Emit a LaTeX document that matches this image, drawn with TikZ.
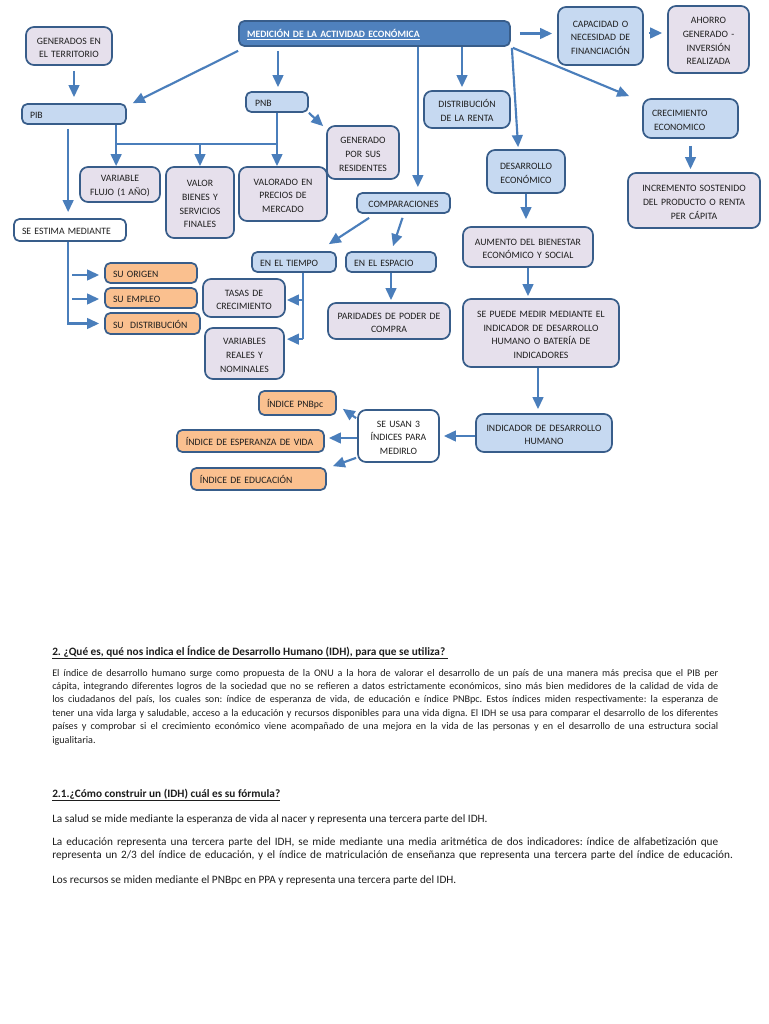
\documentclass[tikz,border=0pt]{standalone}
\usepackage{fontspec}
\setmainfont{Carlito}
\usetikzlibrary{arrows.meta,calc}
\frenchspacing
\definecolor{lb}{HTML}{C6D9F1}
\definecolor{lv}{HTML}{E6E0EC}
\definecolor{og}{HTML}{FAC08F}
\definecolor{mb}{HTML}{4F81BD}
\definecolor{bd}{HTML}{385D8A}
\definecolor{ac}{HTML}{4A7EBB}
\definecolor{tx}{HTML}{1E1E1E}
% style, name, x1, y1, x2, y2, pad, text
\newcommand\bx[8]{%
  \pgfmathsetmacro\bxw{(#5-#3-2*#7)*0.75}%
  \pgfmathsetmacro\bxh{(#6-#4)*0.75}%
  \pgfmathsetmacro\bxp{#7*0.75}%
  \node[#1, text width=\bxw pt, minimum height=\bxh pt, inner xsep=\bxp pt] (#2) at ({(#3+#5)/2},{(#4+#6)/2}) {#8};}
\newcommand\jline[1]{\noindent{\spaceskip=.226em plus .5em minus .1em\xspaceskip=\spaceskip\hbox to \hsize{#1}}\par}
\begin{document}
\begin{tikzpicture}[x=0.75pt,y=-0.75pt,
  boxbase/.style={draw=bd, line width=1.3pt, rounded corners=4pt, inner ysep=0pt,
    font=\fontsize{7.3}{10.25}\selectfont, text=tx, execute at begin node={\rule{0pt}{7.4pt}}},
  blu/.style={boxbase, fill=lb},
  lav/.style={boxbase, fill=lv},
  org/.style={boxbase, fill=og},
  wht/.style={boxbase, fill=white},
  drk/.style={boxbase, fill=mb, text=white},
  ctr/.style={align=center},
  lft/.style={align=left},
  big/.style={rounded corners=6pt},
  arr/.style={draw=ac, line width=1.6pt, -{Triangle[length=9pt,width=8pt]}},
  ln/.style={draw=ac, line width=1.6pt},
  para/.style={inner sep=0pt, text=tx, font=\fontsize{8.45}{10.2}\selectfont\frenchspacing, anchor=base west},
  smallpara/.style={para, font=\fontsize{7.6}{10.1}\selectfont\frenchspacing}]
\fill[white] (0,0) rectangle (768,1024);
\useasboundingbox (0,0) rectangle (768,1024);

% boxes
\bx{drk,lft}{med}{239}{21}{510}{46}{8}{\bfseries\underline{MEDICIÓN DE LA ACTIVIDAD ECONÓMICA}}
\bx{lav,ctr,big}{gen}{26}{27}{112}{65}{3}{GENERADOS EN\\EL TERRITORIO}
\bx{blu,lft}{pib}{22}{104}{126}{124}{8}{PIB}
\bx{blu,lft}{pnb}{246}{92}{308}{112}{9}{PNB}
\bx{lav,ctr,big}{gpr}{327}{126}{399}{179}{3}{GENERADO\\POR SUS\\RESIDENTES}
\bx{blu,ctr,big}{dist}{424}{91}{510}{128}{3}{DISTRIBUCIÓN\\DE LA RENTA}
\bx{blu,ctr,big}{cap}{558}{7}{643}{65}{3}{CAPACIDAD O\\NECESIDAD DE\\FINANCIACIÓN}
\bx{lav,ctr,big}{aho}{668}{6}{749}{73}{3}{AHORRO\\GENERADO -\\INVERSIÓN\\REALIZADA}
\bx{blu,lft,big}{crec}{643}{99}{738}{138}{9}{CRECIMIENTO\\\hspace*{1.5pt}ECONOMICO}
\bx{lav,ctr,big}{inc}{628}{173}{760}{228}{3}{INCREMENTO SOSTENIDO\\DEL PRODUCTO O RENTA\\PER CÁPITA}
\bx{blu,ctr,big}{des}{487}{150}{565}{193}{3}{DESARROLLO\\ECONÓMICO}
\bx{lav,ctr,big}{aum}{463}{227}{593}{267}{3}{AUMENTO DEL BIENESTAR\\ECONÓMICO Y SOCIAL}
\bx{lav,ctr,big}{sep}{463}{299}{619}{367}{3}{SE PUEDE MEDIR MEDIANTE EL\\INDICADOR DE DESARROLLO\\HUMANO O BATERÍA DE\\INDICADORES}
\bx{blu,ctr,big}{ind}{476}{414}{612}{452}{3}{INDICADOR DE DESARROLLO\\HUMANO}
\bx{wht,ctr,big}{usan}{358}{410}{439}{462}{3}{SE USAN 3\\ÍNDICES PARA\\MEDIRLO}
\bx{org,lft}{pnbpc}{259}{391}{336}{415}{8}{ÍNDICE PNBpc}
\bx{org,lft}{espv}{177}{430}{324}{452}{8}{\hspace*{0.7pt}ÍNDICE DE ESPERANZA DE VIDA}
\bx{org,lft}{edu}{191}{468}{326}{490}{8}{\hspace*{0.7pt}ÍNDICE DE EDUCACIÓN}
\bx{lav,ctr,big}{var}{80}{167}{160}{202}{3}{VARIABLE\\FLUJO (1 AÑO)}
\bx{lav,ctr,big}{valor}{166}{167}{234}{238}{3}{VALOR\\BIENES Y\\SERVICIOS\\FINALES}
\bx{lav,ctr,big}{valo}{239}{167}{327}{221}{3}{VALORADO EN\\PRECIOS DE\\MERCADO}
\bx{blu,ctr}{comp}{357}{193}{450}{213}{3}{COMPARACIONES}
\bx{wht,lft}{est}{14}{219}{126}{241}{8}{SE ESTIMA MEDIANTE}
\bx{org,lft}{ori}{105}{263}{197}{283}{8}{SU ORIGEN}
\bx{org,lft}{emp}{105}{288}{197}{308}{8}{SU EMPLEO}
\bx{org,lft}{dis}{105}{313}{200}{334}{8}{SU\ \ DISTRIBUCIÓN}
\bx{blu,lft}{tie}{252}{252}{336}{272}{8}{EN EL TIEMPO}
\bx{blu,lft}{esp}{346}{252}{436}{272}{8}{EN EL ESPACIO}
\bx{lav,ctr,big}{tas}{203}{279}{285}{317}{3}{TASAS DE\\CRECIMIENTO}
\bx{lav,ctr,big}{vrn}{205}{328}{284}{379}{3}{VARIABLES\\REALES Y\\NOMINALES}
\bx{lav,ctr,big}{par}{328}{303}{450}{339}{3}{PARIDADES DE PODER DE\\COMPRA}

% connectors
\draw[arr] ($(med.south west)+(0,4)$) -- ($(pib.north east)+(6,0)$);
\draw[arr] ($(pib.north|-gen.south)+(0,5)$) -- ($(pib.north)+(0,-6)$);
\draw[arr] ($(pib.south west)+(47,4)$) -- ($(est.north west)+(55,-6)$);
\coordinate (b1) at ($(pib.south west)+(95,0)$);
\coordinate (jn) at (0,144);
\draw[arr] (b1) -- (b1|-var.north);
\draw[ln] (b1|-jn) -- (pnb.south|-jn);
\draw[arr] (valor.north|-jn) -- (valor.north);
\draw[arr] ($(pnb.north|-med.south)+(1,4)$) -- ($(pnb.north)+(1,-4)$);
\draw[arr] (pnb.south) -- (pnb.south|-valo.north);
\draw[arr] (pnb.south east) -- ($(gpr.north west)+(-3,1)$);
\coordinate (ct) at ($(comp.north east)+(-33,-5)$);
\draw[arr] (ct|-med.south) -- (ct);
\coordinate (dt) at ($(dist.north)+(-5,-3)$);
\draw[arr] (dt|-med.south) -- (dt);
\draw[arr] ($(med.south east)+(1,1)$) -- ($(des.north west)+(32,-2)$);
\draw[arr] ($(med.south east)+(2,1)$) -- ($(crec.north west)+(-13,-2)$);
\coordinate (mc) at ($(med.east)+(9,0)$);
\draw[arr] (mc) -- ($(cap.west|-mc)+(-5,0)$);
\coordinate (ca) at ($(cap.east)+(5,-3)$);
\draw[arr] (ca) -- ($(aho.west|-ca)+(-5,0)$);
\draw[arr] ($(crec.south)+(0,7)$) -- ($(crec.south|-inc.north)+(0,-3)$);
\draw[arr] (des.south) -- ($(des.south|-aum.north)+(0,-7)$);
\draw[arr] (aum.south) -- ($(aum.south|-sep.north)+(0,-2)$);
\coordinate (si) at ($(sep.south)+(-3,0)$);
\draw[arr] (si) -- ($(si|-ind.north)+(0,-4)$);
\draw[arr] (ind.west|-usan.east) -- ($(usan.east)+(4,0)$);
\draw[arr] ($(usan.north west)+(-1,9)$) -- ($(pnbpc.south east)+(6,-7)$);
\coordinate (ue) at ($(usan.west)+(0,2)$);
\draw[arr] (ue) -- ($(espv.east|-ue)+(4,0)$);
\draw[arr] ($(usan.south west)+(-1,-5)$) -- ($(edu.north east)+(6,-1)$);
\draw[arr] ($(comp.south west)+(13,4)$) -- ($(tie.north east)+(-8,-7)$);
\draw[arr] ($(comp.south)+(-1,4)$) -- ($(esp.north)+(2,-5)$);
\draw[arr] (esp.south) -- ($(esp.south|-par.north)+(0,-2)$);
\coordinate (ts) at ($(tie.south)+(9,0)$);
\coordinate (vt) at ($(vrn.north east)+(2,12)$);
\draw[ln] (ts) -- (ts|-vt);
\draw[arr] (ts|-vt) -- (vt);
\coordinate (tt) at ($(tas.east)+(1,2)$);
\draw[arr] (ts|-tt) -- (tt);
\coordinate (es) at ($(est.south west)+(55,0)$);
\draw[arr] ($(ori.west)+(-32,2)$) -- ($(ori.west)+(-5,2)$);
\draw[arr] ($(emp.west)+(-32,1)$) -- ($(emp.west)+(-5,1)$);
\draw[arr] (es) -- (es|-dis.west) -- ($(dis.west)+(-5,0)$);

% text
\node[para] (h1) at (52,655) {\bfseries\underline{2. ¿Qué es, qué nos indica el Índice de Desarrollo Humano (IDH), para que se utiliza?\ }};
\node[smallpara, text width=499.5pt] (p1) at (52,676) {%
\jline{El índice de desarrollo humano surge como propuesta de la ONU a la hora de valorar el desarrollo de un país de una manera más precisa que el PIB per}%
\jline{cápita, integrando diferentes logros de la sociedad que no se refieren a datos estrictamente económicos, sino más bien medidores de la calidad de vida de}%
\jline{los ciudadanos del país, los cuales son: índice de esperanza de vida, de educación e índice PNBpc. Estos índices miden respectivamente: la esperanza de}%
\jline{tener una vida larga y saludable, acceso a la educación y recursos disponibles para una vida digna. El IDH se usa para comparar el desarrollo de los diferentes}%
\jline{países y comprobar si el crecimiento económico viene acompañado de una mejora en la vida de las personas y en el desarrollo de una estructura social}%
\noindent igualitaria.};
\node[para] (h2) at (52,797) {\bfseries\underline{2.1.¿Cómo construir un (IDH) cuál es su fórmula?}};
\node[para] (p2) at (52,822) {La salud se mide mediante la esperanza de vida al nacer y representa una tercera parte del IDH.};
\node[para, text width=499.5pt] (p3) at (52,845) {%
\jline{La educación representa una tercera parte del IDH, se mide mediante una media aritmética de dos indicadores: índice de alfabetización que}%
\noindent\hbox{representa un 2/3 del índice de educación, y el índice de matriculación de enseñanza que representa una tercera parte del índice de educación.}};
\node[para] (p4) at (52,883) {Los recursos se miden mediante el PNBpc en PPA y representa una tercera parte del IDH.};
\end{tikzpicture}
\end{document}
